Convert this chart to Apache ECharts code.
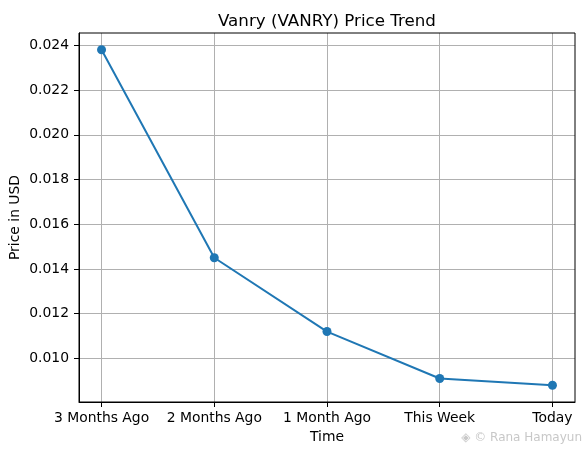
<!DOCTYPE html>
<html>
<head>
<meta charset="utf-8">
<script src="https://cdn.jsdelivr.net/npm/echarts@6/dist/echarts.min.js"></script>
<style>
  html, body { margin: 0; padding: 0; background: #fff; }
  #main { width: 584px; height: 455px; }
</style>
</head>
<body>
<div id="main"></div>
<script>
// chart data
var categories = ['3 Months Ago', '2 Months Ago', '1 Month Ago', 'This Week', 'Today'];
var prices = [0.0238, 0.0145, 0.0112, 0.0091, 0.0088];
var yTicks = [0.010, 0.012, 0.014, 0.016, 0.018, 0.020, 0.022, 0.024];

var font = 'DejaVu Sans';
var myChart = echarts.init(document.getElementById('main'), null, { renderer: 'canvas' });

var points = [];
for (var i = 0; i < prices.length; i++) {
  points.push([i, prices[i]]);
}
var xTicks = categories.map(function (c, i) { return i; });

var option = {
  backgroundColor: '#fff',
  animation: false,
  title: {
    text: 'Vanry (VANRY) Price Trend',
    left: 213,
    top: 8,
    textStyle: { fontFamily: font, fontSize: 16.7, fontWeight: 'normal', color: '#000' }
  },
  grid: { left: 79, right: 9, top: 33, bottom: 53, containLabel: false, outerBoundsMode: 'none' },
  xAxis: {
    type: 'value',
    min: -0.2,
    max: 4.2,
    name: 'Time',
    nameLocation: 'middle',
    nameGap: 27,
    nameTextStyle: { fontFamily: font, fontSize: 13.9, color: '#000' },
    axisLine: { show: true, onZero: false, lineStyle: { color: '#000', width: 1 } },
    axisTick: { show: true, length: 5, customValues: xTicks, lineStyle: { color: '#000', width: 1 } },
    axisLabel: {
      customValues: xTicks,
      margin: 9,
      fontFamily: font, fontSize: 13.9, color: '#000',
      formatter: function (v) { return categories[Math.round(v)]; }
    },
    splitLine: { show: true, lineStyle: { color: '#b0b0b0', width: 1 } }
  },
  yAxis: {
    type: 'value',
    min: 0.00805,
    max: 0.02455,
    name: 'Price in USD',
    nameLocation: 'middle',
    nameGap: 57,
    nameMoveOverlap: false,
    nameTextStyle: { fontFamily: font, fontSize: 13.9, color: '#000' },
    axisLine: { show: true, onZero: false, lineStyle: { color: '#000', width: 1 } },
    axisTick: { show: true, length: 5, customValues: yTicks, lineStyle: { color: '#000', width: 1 } },
    axisLabel: {
      customValues: yTicks,
      margin: 10,
      fontFamily: font, fontSize: 13.9, color: '#000',
      formatter: function (v) { return v.toFixed(3); }
    },
    splitLine: { show: true, lineStyle: { color: '#b0b0b0', width: 1 } }
  },
  graphic: [
    {
      type: 'rect',
      shape: { x: 79, y: 33, width: 496, height: 369 },
      style: { fill: 'none', stroke: '#000', lineWidth: 1 },
      z: 100
    },
    {
      type: 'text',
      right: 2,
      top: 432,
      style: {
        text: '\u25C8 \u00A9 Rana Hamayun',
        fontFamily: font, fontSize: 12, fill: '#c8c8c8'
      }
    }
  ],
  series: [
    {
      type: 'line',
      data: points,
      symbol: 'circle',
      symbolSize: 9,
      lineStyle: { color: '#1f77b4', width: 2 },
      itemStyle: { color: '#1f77b4' },
      z: 10
    }
  ]
};

myChart.setOption(option);
</script>
</body>
</html>
